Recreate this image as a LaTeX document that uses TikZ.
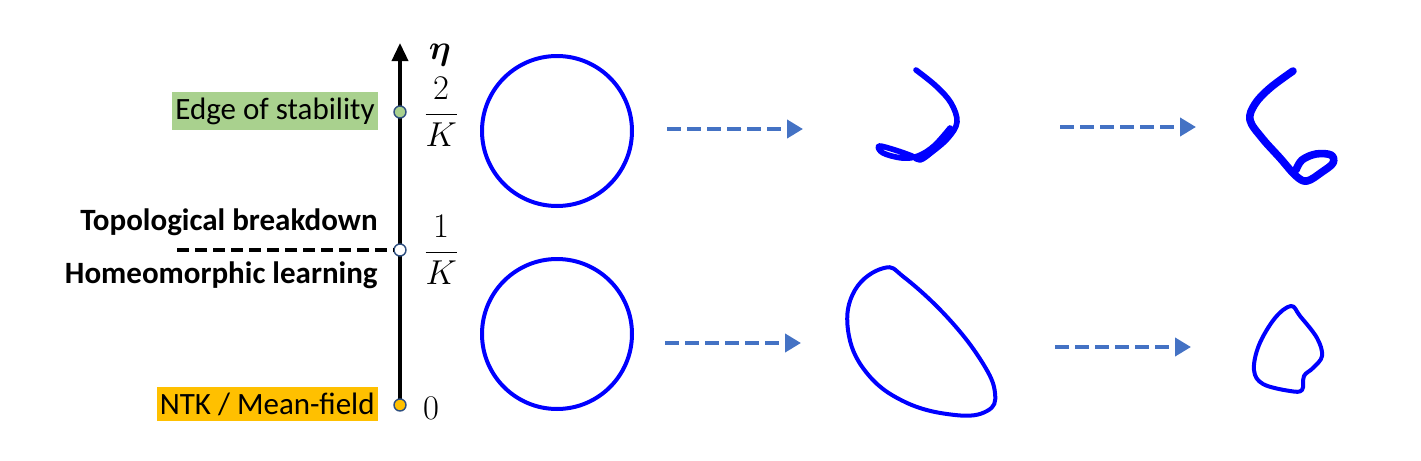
\documentclass[tikz,border=0pt]{standalone}
\usepackage{amsmath,amssymb,bm}
\usepackage{fontspec}
\setmainfont{Carlito}
\usepackage{xcolor}
\usetikzlibrary{arrows.meta,positioning,calc}

\definecolor{stabgreen}{HTML}{A9D18E}
\definecolor{ntkorange}{HTML}{FFC000}
\definecolor{flowblue}{HTML}{4472C4}
\definecolor{dotedge}{HTML}{2F4F7F}

\tikzset{
    regime/.style={font=\fontsize{15.5}{17}\selectfont, inner xsep=1.5pt, inner ysep=3pt},
    dot/.style={draw=dotedge, line width=0.7pt, circle, inner sep=0pt, minimum size=6pt},
    tick/.style={font=\fontsize{16}{18}\selectfont, inner sep=0pt},
    flow/.style={draw=flowblue, line width=2.4pt, dash pattern=on 7pt off 3pt,
        -{Triangle[length=8pt,width=9pt,fill=flowblue]}},
    loopline/.style={draw=blue, line width=2pt, line join=round, line cap=round}
}

\begin{document}
\begin{tikzpicture}[x=0.5pt, y=-0.5pt]
    \useasboundingbox (0,0) rectangle (1421,461);

    % Axis
    \coordinate (axbot) at (400,405);
    \coordinate (axtop) at (400,43);
    \draw[line width=1.8pt, -{Triangle[length=9pt,width=8pt]}] (axbot) -- (axtop);
    \node[tick] (eta) at (440,55) {$\bm{\eta}$};

    \node[dot, fill=stabgreen] (d2) at (400,112) {};
    \node[dot, fill=white] (d1) at (400,250) {};
    \node[dot, fill=ntkorange] (d0) at (400,405) {};

    \node[tick, right=8pt of d2] (t2) {$\dfrac{2}{K}$};
    \node[tick, right=8pt of d1] (t1) {$\dfrac{1}{K}$};
    \node[tick, right=8pt of d0, yshift=-1.5pt] (t0) {$0$};

    % Regimes
    \node[regime, fill=stabgreen, anchor=east] (edge) at (378,111) {Edge of stability};
    \node[regime, fill=ntkorange, anchor=east] (ntk) at (378,404) {NTK / Mean-field};
    \node[regime, font=\fontsize{15.5}{17}\selectfont\bfseries, anchor=east] (topo) at (381,222) {Topological breakdown};
    \node[regime, font=\fontsize{15.5}{17}\selectfont\bfseries, anchor=east] (homeo) at (381,275) {Homeomorphic learning};
    \coordinate (split) at (177,250);
    \draw[line width=1.6pt, dash pattern=on 6pt off 3pt] (split) -- (d1);

    % Initial circles
    \node[draw=blue, line width=2pt, circle, minimum size=75pt] (c2) at (557,131) {};
    \node[draw=blue, line width=2pt, circle, minimum size=75pt] (c1) at (557,334) {};

    % Flow arrows
    \coordinate (fa1) at (667,129);  \coordinate (fb1) at (803,129);
    \coordinate (fa2) at (1060,127); \coordinate (fb2) at (1196,127);
    \coordinate (fa3) at (665,343);  \coordinate (fb3) at (801,343);
    \coordinate (fa4) at (1055,347); \coordinate (fb4) at (1191,347);
    \draw[flow] (fa1) -- (fb1);
    \draw[flow] (fa2) -- (fb2);
    \draw[flow] (fa3) -- (fb3);
    \draw[flow] (fa4) -- (fb4);

    % Edge of stability: folded curves
    \draw[loopline, line width=2.8pt] plot[smooth, tension=0.6] coordinates {
        (916,70) (936,86) (951,103) (957,122) (948,138) (932,152) (920,160)
        (912,156) (895,150) (879,146) (883,153) (902,158) (918,156) (934,146) (950,128)};
    \draw[loopline, line width=3.8pt] plot[smooth, tension=0.6] coordinates {
        (1293,71) (1270,88) (1255,104) (1250,120) (1262,138) (1280,158) (1296,176)
        (1307,181) (1322,172) (1333,163) (1331,155) (1316,154) (1302,160) (1296,170)};

    % Homeomorphic learning: deformed loops
    \draw[loopline] plot[smooth cycle, tension=0.7] coordinates {
        (884,268) (905,278) (948,318) (982,362) (995,393) (987,411) (955,415)
        (905,402) (866,372) (848,330) (855,290)};
    \draw[loopline] plot[smooth cycle, tension=0.6] coordinates {
        (1291,306) (1300,316) (1317,338) (1322,356) (1313,368) (1304,376)
        (1302,390) (1290,391) (1263,384) (1254,370) (1259,345) (1275,318)};
\end{tikzpicture}
\end{document}
